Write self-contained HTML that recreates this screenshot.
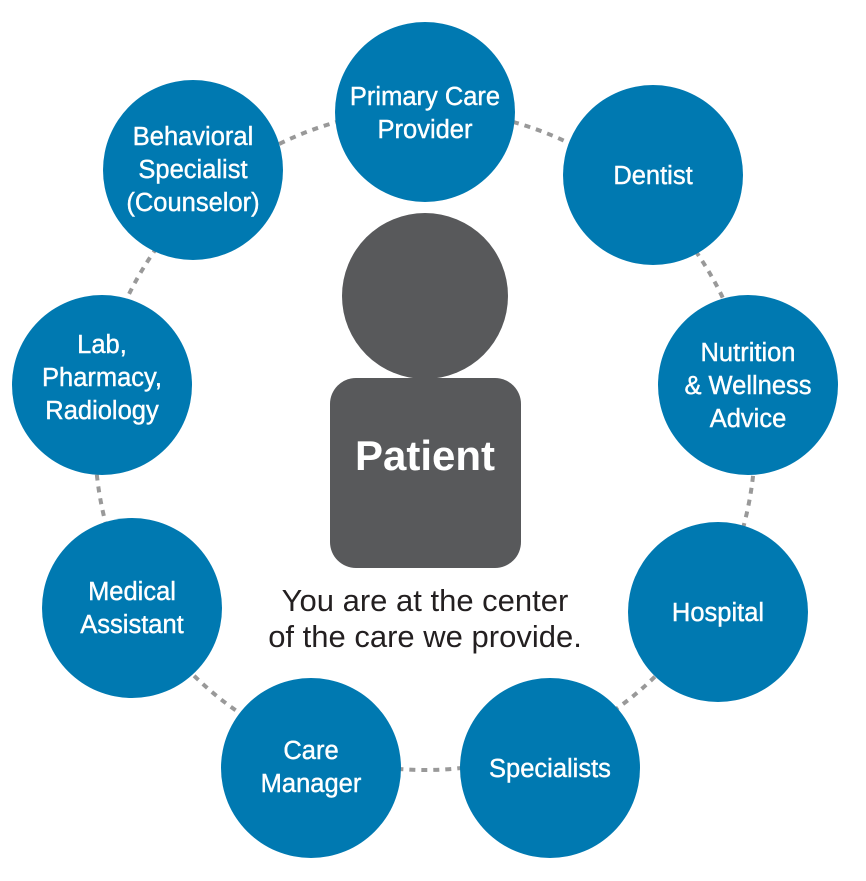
<!DOCTYPE html>
<html><head><meta charset="utf-8"><style>
html,body{margin:0;padding:0;background:#fff;}
svg text{font-family:"Liberation Sans",sans-serif;}
</style></head><body>
<svg width="866" height="876" viewBox="0 0 866 876" xmlns="http://www.w3.org/2000/svg">
<circle cx="425" cy="440" r="330" fill="none" stroke="#999" stroke-width="4" stroke-dasharray="6,6"/>
<g fill="#0079b1">
<circle cx="425" cy="112" r="90"/>
<circle cx="653" cy="175" r="90"/>
<circle cx="748" cy="385" r="90"/>
<circle cx="718" cy="612" r="90"/>
<circle cx="550" cy="768" r="90"/>
<circle cx="311" cy="768" r="90"/>
<circle cx="132" cy="608" r="90"/>
<circle cx="102" cy="385" r="90"/>
<circle cx="193" cy="170" r="90"/>
</g>
<g fill="#fff" font-size="25.5" text-anchor="middle" style="paint-order:stroke" stroke="#fff" stroke-width="0.4">
<text x="425" y="105">Primary Care</text><text x="425" y="138">Provider</text>
<text x="653" y="184">Dentist</text>
<text x="748" y="361">Nutrition</text><text x="748" y="394">&amp; Wellness</text><text x="748" y="427">Advice</text>
<text x="718" y="621">Hospital</text>
<text x="550" y="777">Specialists</text>
<text x="311" y="759">Care</text><text x="311" y="792">Manager</text>
<text x="132" y="600">Medical</text><text x="132" y="633">Assistant</text>
<text x="102" y="353">Lab,</text><text x="102" y="386">Pharmacy,</text><text x="102" y="419">Radiology</text>
<text x="193" y="145">Behavioral</text><text x="193" y="178">Specialist</text><text x="193" y="211">(Counselor)</text>
</g>
<circle cx="425" cy="296" r="83" fill="#58595b"/>
<rect x="330" y="378" width="191" height="190" rx="26" fill="#58595b"/>
<text x="425" y="470" fill="#fff" font-size="42" font-weight="bold" text-anchor="middle">Patient</text>
<g fill="#231f20" font-size="31" text-anchor="middle">
<text x="425" y="611">You are at the center</text>
<text x="425" y="647">of the care we provide.</text>
</g>
</svg>
</body></html>
